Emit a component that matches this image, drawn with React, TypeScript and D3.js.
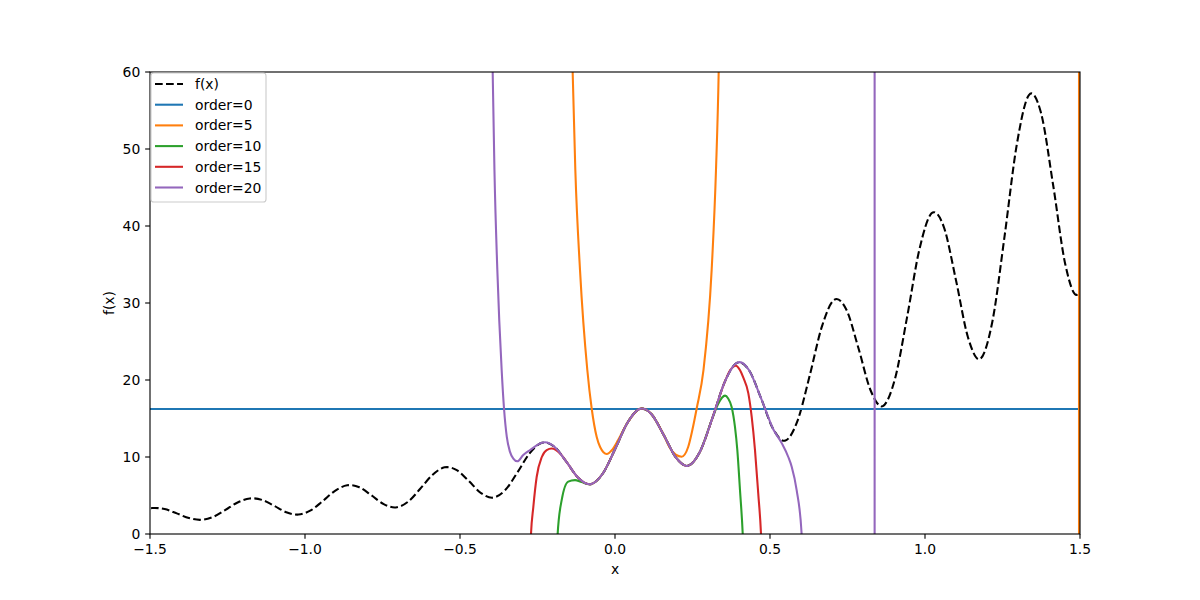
import React from "react";
import * as d3 from "d3";

// ---------- data ----------
const xTicks = [-1.5, -1.0, -0.5, 0.0, 0.5, 1.0, 1.5];
const yTicks = [0, 10, 20, 30, 40, 50, 60];
const legendLabels = ["f(x)", "order=0", "order=5", "order=10", "order=15", "order=20"];

const fX = [
  -1.5315, -1.4923, -1.453, -1.4137, -1.3744, -1.3352, -1.2959, -1.2566, -1.2174, -1.1781, -1.1388,
  -1.0996, -1.0603, -1.021, -0.9817, -0.9425, -0.9032, -0.8639, -0.8247, -0.7854, -0.7461,
  -0.7069, -0.6676, -0.6283, -0.589, -0.5498, -0.5105, -0.4712, -0.432, -0.3927, -0.3534,
  -0.3142, -0.2749, -0.2356, -0.1963, -0.1571, -0.1178, -0.0785, -0.0393, 0.0, 0.0393,
  0.0785, 0.1178, 0.1571, 0.1963, 0.2356, 0.2749, 0.3142, 0.3534, 0.3927, 0.432,
  0.4712, 0.5105, 0.5498, 0.589, 0.6283, 0.6676, 0.7069, 0.7461, 0.7854, 0.8247,
  0.8639, 0.9032, 0.9425, 0.9817, 1.021, 1.0603, 1.0996, 1.1388, 1.1781, 1.2174,
  1.2566, 1.2959, 1.3352, 1.3744, 1.4137, 1.453, 1.4923, 1.5315,
];
const fY = [
  2.99, 3.373, 3.234, 2.676, 2.067, 1.842, 2.236, 3.131, 4.093, 4.618, 4.428,
  3.663, 2.83, 2.522, 3.062, 4.286, 5.604, 6.323, 6.062, 5.015, 3.875,
  3.452, 4.192, 5.868, 7.673, 8.656, 8.3, 6.867, 5.305, 4.727, 5.739,
  8.034, 10.505, 11.851, 11.363, 9.401, 7.263, 6.471, 7.857, 11.0, 14.382,
  16.226, 15.557, 12.871, 9.944, 8.86, 10.757, 15.06, 19.691, 22.215, 21.3,
  17.622, 13.615, 12.13, 14.728, 20.619, 26.959, 30.414, 29.162, 24.126, 18.64,
  16.607, 20.164, 28.23, 36.91, 41.64, 39.926, 33.031, 25.521, 22.737, 27.606,
  38.649, 50.533, 57.01, 54.662, 45.223, 34.94, 31.13, 37.8,
];

const order0Value = 16.23;

// null separates independent pieces of a curve
const order5X = [
  -0.14, -0.1365, -0.128, -0.1129, -0.0893, -0.0752, -0.059, -0.048, -0.027, -0.008, 0.01,
  0.0393, 0.0785, 0.088, 0.1178, 0.1571, 0.177, 0.196, 0.215, 0.236, 0.2495, 0.2635, 0.2855,
  0.3118, 0.3258, 0.3344, 0.337, null, 1.4968, 1.4968,
];
const order5Y = [
  66, 59.9, 47.3, 34.3, 21.3, 16.3, 12.6, 11.3, 10.4, 11.0, 12.2,
  14.382, 16.226, 16.3, 15.557, 12.871, 11.2, 10.3, 10.04, 11.3, 13.5, 16.3, 21.3,
  34.3, 47.3, 59.9, 66, null, -5, 66,
];

const order10X = [
  -0.188, -0.185, -0.172, -0.151, -0.129, -0.108, -0.083, -0.0785, -0.0393, 0.0, 0.0393, 0.0785,
  0.088, 0.1178, 0.1571, 0.1963, 0.2312, 0.2356, 0.2749, 0.3142, 0.333, 0.345, 0.355, 0.365, 0.3763,
  0.387, 0.3946, 0.4032, 0.412, 0.415,
];
const order10Y = [
  -3, 0, 4.4, 6.8, 7.0, 6.75, 6.457, 6.471, 7.857, 11.0, 14.382, 16.226,
  16.3, 15.557, 12.871, 9.944, 8.84, 8.86, 10.757, 15.06, 16.9, 17.7, 17.97, 17.6, 16.5,
  13.9, 10.9, 5.7, 0, -3,
];

const order15X = [
  -0.274, -0.271, -0.2635, -0.2527, -0.236, -0.2204, -0.204, -0.177, -0.1571, -0.1178, -0.083, -0.0785,
  -0.0393, 0.0, 0.0393, 0.0785, 0.088, 0.1178, 0.1571, 0.1963, 0.2312, 0.2356, 0.2749, 0.3142, 0.3534,
  0.372, 0.39, 0.403, 0.414, 0.43, 0.441, 0.4516, 0.462, 0.471, 0.474,
];
const order15Y = [
  -3, 0, 3.5, 7.4, 10.0, 10.9, 11.1, 10.45, 9.401, 7.263, 6.457, 6.471,
  7.857, 11.0, 14.382, 16.226, 16.3, 15.557, 12.871, 9.944, 8.84, 8.86, 10.757, 15.06, 19.691,
  21.3, 21.86, 21.3, 20.3, 18.3, 15.2, 10.9, 5.3, 0, -3,
];

const order20X = [
  -0.397, -0.3945, -0.3889, -0.3796, -0.3656, -0.358, -0.349, -0.339, -0.328, -0.315, -0.296,
  -0.274, -0.2356, -0.2262, -0.1963, -0.1571, -0.1178, -0.083, -0.0785, -0.0393, 0.0, 0.0393, 0.0785,
  0.088, 0.1178, 0.1571, 0.1963, 0.2312, 0.2356, 0.2749, 0.3142, 0.3534, 0.3927, 0.402, 0.432,
  0.4712, 0.5105, 0.5377, 0.559, 0.57, 0.586, 0.602, 0.605, null, 0.8375, 0.8375,
];
const order20Y = [
  66, 59.9, 47.3, 34.3, 21.3, 16.3, 12.6, 10.7, 9.8, 9.44, 10.26,
  10.9, 11.851, 11.906, 11.363, 9.401, 7.263, 6.457, 6.471, 7.857, 11.0, 14.382, 16.226,
  16.3, 15.557, 12.871, 9.944, 8.84, 8.86, 10.757, 15.06, 19.691, 22.215, 22.32, 21.3,
  17.622, 13.615, 11.8, 10.0, 8.74, 5.7, 0, -3, null, -5, 66,
];

// ---------- layout / style ----------
const W = 1200;
const H = 600;
const M = { left: 150, right: 1080, top: 72, bottom: 534 };
const FONT = "'DejaVu Sans', sans-serif";
const FS = 13.9;
const LW = 2.08;
const colors = ["#000000", "#1f77b4", "#ff7f0e", "#2ca02c", "#d62728", "#9467bd"];
const DASH = "7.7 3.33";

type Pt = [number | null, number | null];
const zip = (xs: (number | null)[], ys: (number | null)[]): Pt[] => xs.map((v, i) => [v, ys[i]]);

export default function App() {
  const x = d3.scaleLinear().domain([-1.5, 1.5]).range([M.left, M.right]);
  const y = d3.scaleLinear().domain([0, 60]).range([M.bottom, M.top]);

  const makeLine = (curve: d3.CurveFactory) =>
    d3
      .line<Pt>()
      .defined((d) => d[0] !== null && d[1] !== null)
      .x((d) => x(d[0] as number))
      .y((d) => y(d[1] as number))
      .curve(curve);

  const fLine = makeLine(d3.curveCatmullRom.alpha(0));
  const tLine = makeLine(d3.curveMonotoneX);

  const series: { pts: Pt[]; gen: d3.Line<Pt> }[] = [
    { pts: zip(fX, fY), gen: fLine },
    { pts: zip([-1.5, 1.5], [order0Value, order0Value]), gen: tLine },
    { pts: zip(order5X, order5Y), gen: tLine },
    { pts: zip(order10X, order10Y), gen: tLine },
    { pts: zip(order15X, order15Y), gen: tLine },
    { pts: zip(order20X, order20Y), gen: tLine },
  ];

  const tickLen = 4.86;
  const legendX = 151;
  const legendY = 73;
  const legendW = 115;
  const legendH = 129;
  const rowY0 = 84;
  const rowStep = 20.7;

  return (
    <svg
      width={W}
      height={H}
      viewBox={`0 0 ${W} ${H}`}
      style={{ position: "absolute", left: 0, top: 0, background: "#fff" }}
      fontFamily={FONT}
    >
      <rect x={0} y={0} width={W} height={H} fill="#fff" />
      <defs>
        <clipPath id="plotclip">
          <rect x={M.left} y={M.top} width={M.right - M.left} height={M.bottom - M.top} />
        </clipPath>
      </defs>

      <g clipPath="url(#plotclip)">
        {series.map((s, i) => (
          <path
            key={i}
            d={s.gen(s.pts) || ""}
            fill="none"
            stroke={colors[i]}
            strokeWidth={LW}
            strokeDasharray={i === 0 ? DASH : undefined}
            strokeLinejoin="round"
          />
        ))}
      </g>

      {/* spines */}
      <rect
        x={M.left}
        y={M.top}
        width={M.right - M.left}
        height={M.bottom - M.top}
        fill="none"
        stroke="#000"
        strokeWidth={1.11}
      />

      {/* x ticks */}
      {xTicks.map((t) => (
        <g key={"x" + t}>
          <line x1={x(t)} x2={x(t)} y1={M.bottom} y2={M.bottom + tickLen} stroke="#000" strokeWidth={1.11} />
          <text x={x(t)} y={554} fontSize={FS} textAnchor="middle" fill="#000">
            {d3.format(".1f")(t).replace("-", "\u2212")}
          </text>
        </g>
      ))}
      {/* y ticks */}
      {yTicks.map((t) => (
        <g key={"y" + t}>
          <line x1={M.left - tickLen} x2={M.left} y1={y(t)} y2={y(t)} stroke="#000" strokeWidth={1.11} />
          <text x={140.3} y={y(t) + 5} fontSize={FS} textAnchor="end" fill="#000">
            {String(t)}
          </text>
        </g>
      ))}

      <text x={(M.left + M.right) / 2} y={574} fontSize={FS} textAnchor="middle" fill="#000">
        x
      </text>
      <text transform={`translate(114, ${(M.top + M.bottom) / 2}) rotate(-90)`} fontSize={FS} textAnchor="middle" fill="#000">
        f(x)
      </text>

      {/* legend */}
      <g>
        <rect
          x={legendX}
          y={legendY}
          width={legendW}
          height={legendH}
          rx={2.8}
          fill="#fff"
          fillOpacity={0.8}
          stroke="#cccccc"
          strokeWidth={1.11}
        />
        {legendLabels.map((lab, i) => {
          const ry = rowY0 + i * rowStep;
          return (
            <g key={lab}>
              <line
                x1={155}
                x2={183}
                y1={ry}
                y2={ry}
                stroke={colors[i]}
                strokeWidth={LW}
                strokeDasharray={i === 0 ? DASH : undefined}
              />
              <text x={195} y={ry + 5} fontSize={FS} fill="#000">
                {lab}
              </text>
            </g>
          );
        })}
      </g>
    </svg>
  );
}
